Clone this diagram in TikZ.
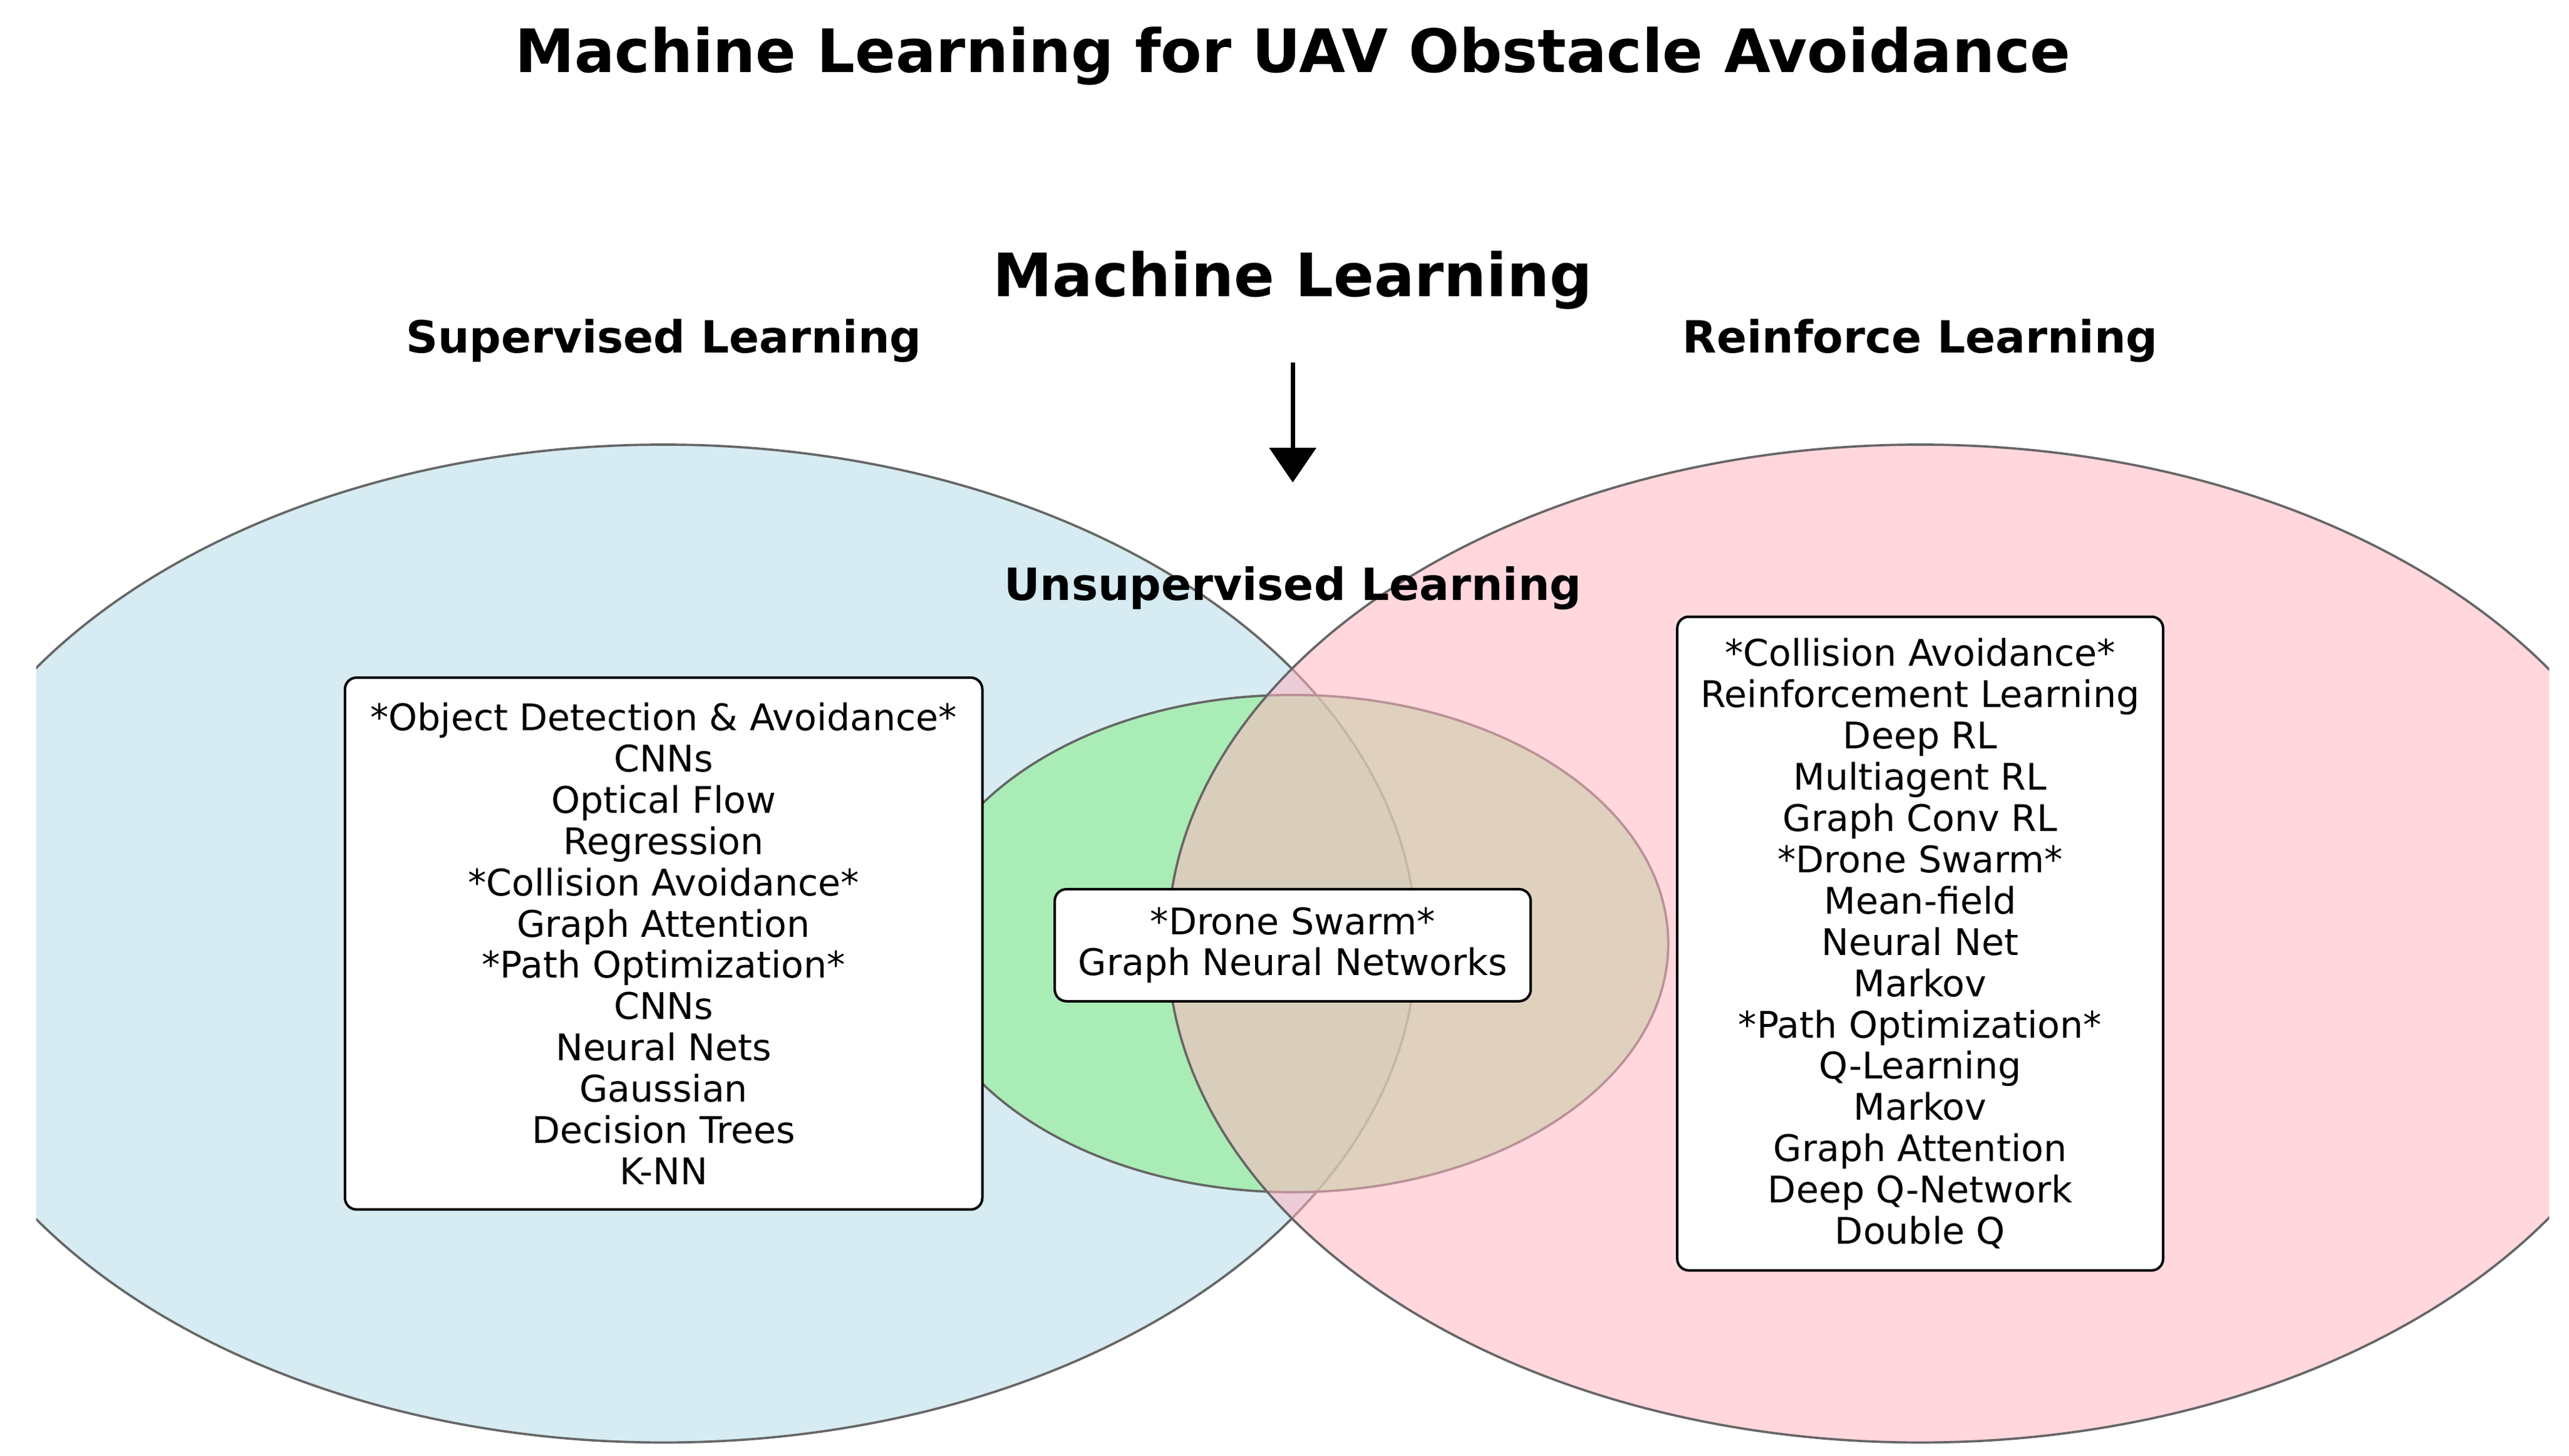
\documentclass[tikz,border=0pt]{standalone}
\usepackage{fontspec}
\setmainfont{DejaVu Sans}
\usetikzlibrary{arrows.meta}
\begin{document}
\begin{tikzpicture}[x=0.03cm,y=-0.03cm,
  lbl/.style={font=\fontsize{23}{27}\selectfont\bfseries},
  txtbox/.style={draw=black,line width=1.3pt,fill=white,rounded corners=6pt,align=center,inner sep=6pt,font=\fontsize{19}{21.4}\selectfont},
  circ/.style={draw=black!60,line width=1.2pt}]
\useasboundingbox (0,0) rectangle (1560,884);
\begin{scope}
\clip (22,0) rectangle (1548,884);
\fill[fill={rgb,255:red,173;green,216;blue,230},opacity=0.5] (403,573) ellipse [x radius=457,y radius=303];
\draw[circ] (403,573) ellipse [x radius=457,y radius=303];
\fill[fill={rgb,255:red,144;green,238;blue,144},opacity=0.62] (785,573) ellipse [x radius=228,y radius=151];
\draw[circ] (785,573) ellipse [x radius=228,y radius=151];
\fill[fill={rgb,255:red,255;green,182;blue,193},opacity=0.55] (1166,573) ellipse [x radius=457,y radius=303];
\draw[circ] (1166,573) ellipse [x radius=457,y radius=303];
\end{scope}
\node[font=\fontsize{31}{35}\selectfont\bfseries] (title) at (785,34) {Machine Learning for UAV Obstacle Avoidance};
\node[font=\fontsize{31}{35}\selectfont\bfseries] (ml) at (785,170) {Machine Learning};
\node[lbl] (sl) at (403,207) {Supervised Learning};
\node[lbl] (rl) at (1166,207) {Reinforce Learning};
\node[lbl] (ul) at (785,357) {Unsupervised Learning};
\coordinate (a1) at (785,220);
\coordinate (a2) at (785,293);
\draw[line width=2.2pt,-{Triangle[length=18pt,width=24pt]}] (a1) -- (a2);
\node[txtbox,minimum width=387*0.03cm,minimum height=323*0.03cm] (lb) at (403,573) {*Object Detection \& Avoidance*\\CNNs\\Optical Flow\\Regression\\*Collision Avoidance*\\Graph Attention\\*Path Optimization*\\CNNs\\Neural Nets\\Gaussian\\Decision Trees\\K-NN};
\node[txtbox,minimum width=289*0.03cm,minimum height=68*0.03cm] (mb) at (785,574) {*Drone Swarm*\\Graph Neural Networks};
\node[txtbox,minimum width=295*0.03cm,minimum height=397*0.03cm] (rb) at (1166,573) {*Collision Avoidance*\\Reinforcement Learning\\Deep RL\\Multiagent RL\\Graph Conv RL\\*Drone Swarm*\\Mean-field\\Neural Net\\Markov\\*Path Optimization*\\Q-Learning\\Markov\\Graph Attention\\Deep Q-Network\\Double Q};
\end{tikzpicture}
\end{document}
